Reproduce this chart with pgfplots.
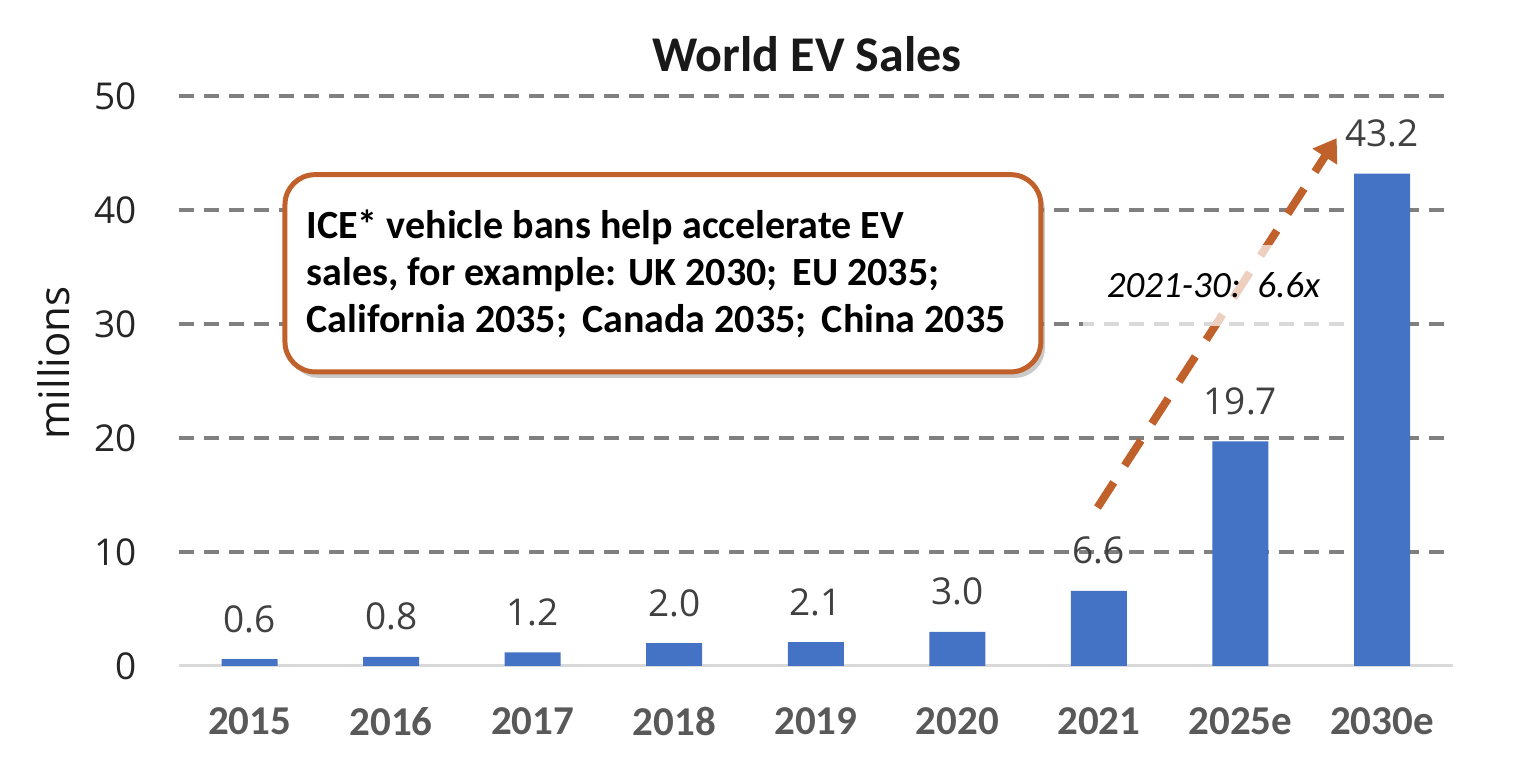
\documentclass[border=0pt]{standalone}
\usepackage{fontspec}
\setmainfont{Open Sans}
\newfontfamily\carlito{Carlito}
\usepackage{pgfplots}
\pgfplotsset{compat=1.18}
\usetikzlibrary{arrows.meta,shadows}
\definecolor{barblue}{HTML}{4472C4}
\definecolor{arrowc}{HTML}{C0612B}
\definecolor{gridc}{HTML}{808080}
\definecolor{xlab}{HTML}{595959}
\definecolor{vlab}{HTML}{404040}
\definecolor{zline}{HTML}{D9D9D9}
\begin{document}
\begin{tikzpicture}
\useasboundingbox (-89.4pt,-54.5pt) rectangle (678.6pt,333pt);
\begin{axis}[
  scale only axis, width=637pt, height=285pt,
  at={(0,0)}, anchor=south west,
  xmin=-0.5, xmax=8.5, ymin=0, ymax=50,
  ybar, bar width=28pt, bar shift=0pt,
  xtick={0,1,2,3,4,5,6,7,8},
  xticklabels={2015,2016,2017,2018,2019,2020,2021,2025e,2030e},
  ytick={10,20,30,40,50},
  extra y ticks={0}, extra y tick style={grid=none},
  ymajorgrids,
  grid style={draw=gridc, line width=2pt, dash pattern=on 7.5pt off 5pt},
  axis x line*=bottom, axis y line*=left,
  y axis line style={draw=none},
  x axis line style={draw=zline, line width=1.5pt, -},
  major tick length=0pt,
  /pgf/number format/assume math mode=true,
  xticklabel style={font=\carlito\bfseries\fontsize{20.5}{24}\selectfont, text=xlab, anchor=north, inner sep=0pt, yshift=-20.5pt},
  yticklabel style={font=\fontsize{18.5}{22}\selectfont, text=black!85, anchor=east, inner sep=0pt, xshift=-20.9pt},
  title={World EV Sales},
  title style={font=\carlito\bfseries\fontsize{25}{30}\selectfont, text=black!90, at={(axis description cs:0.493,1)}, anchor=base, yshift=6pt},
  ylabel={millions},
  ylabel style={font=\fontsize{21}{25}\selectfont, text=black!90, at={(axis description cs:-0.098,0.532)}, anchor=center},
  nodes near coords={\pgfmathprintnumber[fixed,fixed zerofill,precision=1]{\pgfplotspointmeta}},
  nodes near coords style={font=\fontsize{18.5}{22}\selectfont, text=vlab, anchor=base, inner sep=0pt, yshift=13.5pt},
]
\addplot[fill=barblue, draw=none] coordinates {
  (0,0.6) (1,0.8) (2,1.2) (3,2.0) (4,2.1) (5,3.0) (6,6.6) (7,19.7) (8,43.2)
};
% annotation box
\draw[arrowc, line width=2.5pt, rounded corners=15pt, fill=white,
      drop shadow={shadow xshift=2pt, shadow yshift=-3pt, opacity=0.35, fill=black!60}]
  (axis cs:0.25,43.1) rectangle (axis cs:5.59,25.8);
\node[anchor=west, inner sep=0pt, align=left, font=\carlito\bfseries\fontsize{20}{23.5}\selectfont]
  at (axis cs:0.40,34.4)
  {ICE* vehicle bans help accelerate EV\\sales, for example: UK 2030;\hspace{0.15em} EU 2035;\\California 2035;\hspace{0.15em} Canada 2035;\hspace{0.15em} China 2035};
% growth arrow
\draw[arrowc, line width=4pt, dash pattern=on 15pt off 10pt, -{Triangle[length=11pt,width=14pt]}]
  (axis cs:5.99,13.9) -- (axis cs:7.68,46.3);
\node[fill=white, fill opacity=0.7, text opacity=1, inner xsep=12pt, inner ysep=14pt,
      font=\carlito\itshape\fontsize{18.5}{22}\selectfont]
  at (axis cs:6.81,33.4) {2021-30:\ \ 6.6x};
\end{axis}
\end{tikzpicture}
\end{document}
